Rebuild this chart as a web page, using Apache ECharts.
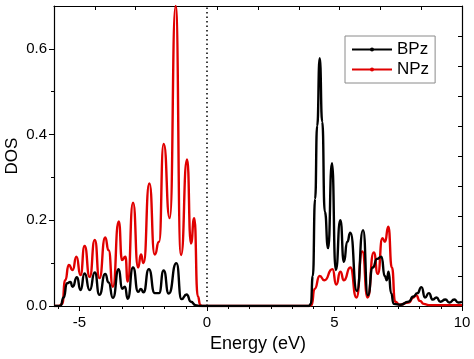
<!DOCTYPE html>
<html>
<head>
<meta charset="utf-8">
<script src="https://cdn.jsdelivr.net/npm/echarts@6/dist/echarts.min.js"></script>
<style>html,body{margin:0;padding:0;background:#fff}#c{width:474px;height:359px}</style>
</head>
<body>
<div id="c"></div>
<script>
// ---- data ----
const bpzEnergy = [-6.0,-5.75,-5.62,-5.49,-5.36,-5.27,-5.10,-4.96,-4.80,-4.60,-4.40,-4.22,-3.99,-3.86,-3.69,-3.46,-3.33,-3.22,-3.11,-2.90,-2.70,-2.59,-2.49,-2.28,-2.05,-1.88,-1.70,-1.50,-1.20,-1.00,-0.80,-0.63,-0.45,-0.3,
  4.0,4.07,4.15,4.24,4.32,4.42,4.52,4.62,4.75,4.90,5.05,5.23,5.37,5.50,5.62,5.88,6.12,6.31,6.5,6.67,6.84,6.97,7.05,7.12,7.22,7.32,7.6,7.9,8.1,8.25,8.41,8.55,8.7,8.85,9.0,9.15,9.35,9.5,9.7,9.85,10.0];
const bpzDos = [0,0,0.02,0.053,0.056,0.045,0.067,0.037,0.076,0.037,0.078,0.026,0.075,0.055,0.019,0.086,0.04,0.045,0.017,0.09,0.033,0.04,0.032,0.086,0.03,0.03,0.083,0.029,0.10,0.016,0.027,0.01,0.002,0,
  0,0.005,0.07,0.25,0.42,0.578,0.43,0.22,0.135,0.333,0.084,0.20,0.103,0.15,0.171,0.035,0.177,0.025,0.09,0.11,0.115,0.07,0.06,0.08,0.03,0.005,0.003,0.01,0.022,0.03,0.044,0.02,0.03,0.015,0.02,0.01,0.015,0.008,0.015,0.008,0.01];

const npzEnergy = [-6.0,-5.8,-5.68,-5.56,-5.42,-5.27,-5.12,-4.96,-4.80,-4.60,-4.40,-4.22,-3.99,-3.86,-3.69,-3.46,-3.33,-3.20,-3.11,-2.90,-2.70,-2.59,-2.49,-2.26,-2.05,-1.88,-1.70,-1.46,-1.23,-1.02,-0.78,-0.63,-0.50,-0.36,-0.26,-0.2,
  4.0,4.1,4.22,4.42,4.60,4.92,5.07,5.23,5.37,5.62,5.86,6.09,6.30,6.54,6.70,6.88,6.98,7.11,7.25,7.38,7.55,7.9,8.1,8.2,8.35,8.5,8.7,10.0];
const npzDos = [0,0,0.005,0.06,0.096,0.084,0.115,0.072,0.14,0.068,0.154,0.065,0.16,0.13,0.045,0.197,0.107,0.115,0.057,0.241,0.09,0.12,0.10,0.286,0.12,0.15,0.378,0.205,0.70,0.119,0.342,0.146,0.205,0.022,0.002,0,
  0,0.002,0.04,0.07,0.06,0.086,0.05,0.08,0.06,0.09,0.02,0.127,0.02,0.125,0.075,0.158,0.15,0.185,0.09,0.01,0.003,0.008,0.02,0.025,0.012,0.005,0.002,0.002];

const xMajorTicks = [-5, 0, 5, 10];
const xMinorTicks = [-5.8333,-4.1667,-3.3333,-2.5,-1.6667,-0.8333,0.8333,1.6667,2.5,3.3333,4.1667,5.8333,6.6667,7.5,8.3333,9.1667];
const yMajorTicks = [0, 0.2, 0.4, 0.6];
const yMinorTicks = [0.1, 0.3, 0.5];

const zip = (xs, ys) => xs.map((x, i) => [x, ys[i]]);
const FONT = '"Liberation Sans", Arial, sans-serif';

const chart = echarts.init(document.getElementById('c'), null, {renderer: 'canvas'});
chart.setOption({
  animation: false,
  backgroundColor: '#fff',
  grid: {left: 54, right: 12, top: 6, bottom: 53, containLabel: false, outerBoundsMode: 'none'},
  legend: {
    orient: 'vertical', left: 345, top: 36,
    padding: [5, 6], itemGap: 3, itemWidth: 40, itemHeight: 5,
    borderColor: '#8a8a8a', borderWidth: 1, backgroundColor: '#fff',
    textStyle: {fontFamily: FONT, fontSize: 17, color: '#000'},
    data: ['BPz', 'NPz']
  },
  xAxis: [
    {type: 'value', min: -6, max: 10, position: 'bottom',
     axisLine: {show: true, onZero: false, lineStyle: {color: '#000', width: 1.2}},
     axisTick: {show: true, customValues: xMajorTicks, length: 5, lineStyle: {color: '#000'}},
     axisLabel: {customValues: xMajorTicks, fontFamily: FONT, fontSize: 15, color: '#000', margin: 9},
     splitLine: {show: false},
     name: 'Energy (eV)', nameLocation: 'middle', nameGap: 29, nameMoveOverlap: false,
     nameTextStyle: {fontFamily: FONT, fontSize: 18, color: '#000'}},
    {type: 'value', min: -6, max: 10, position: 'bottom',
     axisLine: {show: false, onZero: false},
     axisTick: {show: true, customValues: xMinorTicks, length: 3, lineStyle: {color: '#000'}},
     axisLabel: {show: false}, splitLine: {show: false}},
    {type: 'value', min: -6, max: 10, interval: 1.6, position: 'top',
     axisLine: {show: true, onZero: false, lineStyle: {color: '#000', width: 1.2}},
     axisTick: {show: true, inside: true, length: 4, lineStyle: {color: '#000'}},
     axisLabel: {show: false}, splitLine: {show: false}}
  ],
  yAxis: [
    {type: 'value', min: 0, max: 0.7, position: 'left',
     axisLine: {show: true, onZero: false, lineStyle: {color: '#000', width: 1.2}},
     axisTick: {show: true, customValues: yMajorTicks, length: 5, lineStyle: {color: '#000'}},
     axisLabel: {customValues: yMajorTicks, formatter: v => v.toFixed(1), fontFamily: FONT, fontSize: 15, color: '#000', margin: 7},
     splitLine: {show: false},
     name: 'DOS', nameLocation: 'middle', nameGap: 33, nameRotate: 90, nameMoveOverlap: false,
     nameTextStyle: {fontFamily: FONT, fontSize: 17, color: '#000'}},
    {type: 'value', min: 0, max: 0.7, position: 'left',
     axisLine: {show: false, onZero: false},
     axisTick: {show: true, customValues: yMinorTicks, length: 3, lineStyle: {color: '#000'}},
     axisLabel: {show: false}, splitLine: {show: false}},
    {type: 'value', min: 0, max: 0.7, interval: 0.07, position: 'right',
     axisLine: {show: true, onZero: false, lineStyle: {color: '#000', width: 1.2}},
     axisTick: {show: true, inside: true, length: 4, lineStyle: {color: '#000'}},
     axisLabel: {show: false}, splitLine: {show: false}}
  ],
  series: [
    {name: 'BPz', type: 'line', xAxisIndex: 0, yAxisIndex: 0,
     data: zip(bpzEnergy, bpzDos), smooth: 0.6, smoothMonotone: 'x',
     symbol: 'circle', symbolSize: 3, showSymbol: false,
     lineStyle: {color: '#000', width: 2.4}, itemStyle: {color: '#000'}, z: 3,
     markLine: {silent: true, symbol: 'none', label: {show: false},
       lineStyle: {color: '#000', type: [1.5, 3], width: 1.5},
       data: [{xAxis: 0}]}},
    {name: 'NPz', type: 'line', xAxisIndex: 0, yAxisIndex: 0,
     data: zip(npzEnergy, npzDos), smooth: 0.6, smoothMonotone: 'x',
     symbol: 'circle', symbolSize: 3, showSymbol: false,
     lineStyle: {color: '#e00000', width: 2.4}, itemStyle: {color: '#e00000'}, z: 2}
  ]
});
</script>
</body>
</html>
